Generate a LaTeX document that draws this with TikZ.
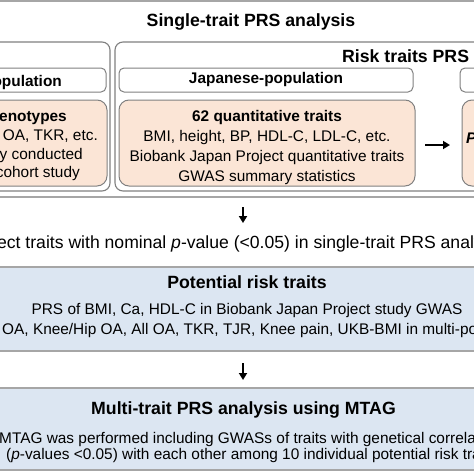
\documentclass[tikz,border=0pt]{standalone}
\usepackage{fontspec}
\setmainfont{Liberation Sans}
\usetikzlibrary{arrows.meta}
\definecolor{peach}{HTML}{FBE5D6}
\definecolor{paleblue}{HTML}{DCE6F2}
\definecolor{secgray}{HTML}{A6A6A6}
\definecolor{boxgray}{HTML}{808080}
\newcommand{\bodysize}{\fontsize{15.4}{20}\selectfont}
\newcommand{\headsize}{\fontsize{17.7}{22}\selectfont\bfseries}

\begin{document}
\begin{tikzpicture}[x=1pt,y=-1pt,
  secbox/.style={draw=secgray,line width=2.5pt,minimum width=640pt,inner sep=0pt,outer sep=0pt},
  grpbox/.style={draw=boxgray,line width=1.1pt,rounded corners=8pt,minimum height=149pt,inner sep=0pt,outer sep=0pt},
  headbox/.style={draw=boxgray,line width=1pt,rounded corners=5pt,minimum height=24pt,inner sep=0pt,outer sep=0pt,font=\bodysize\bfseries},
  peachbox/.style={draw=boxgray,fill=peach,line width=1pt,rounded corners=10pt,minimum height=86pt,inner sep=0pt,outer sep=0pt},
  txt/.style={inner sep=0pt,font=\bodysize,align=center},
  arr/.style={-{Triangle[length=7pt,width=8pt]},line width=2pt}]
\useasboundingbox (0,0) rectangle (474,474);
\clip (0,0) rectangle (474,474);

% single-trait part
\node[secbox,minimum height=196pt] (single) at (243,99) {};
\node[anchor=base,inner sep=0pt,font=\headsize] (singleTitle) at (251,26) {Single-trait PRS analysis};
\node[grpbox,anchor=north east,minimum width=180pt] (grpTarget) at (110,42) {};
\node[grpbox,anchor=north west,minimum width=700pt] (grpRisk) at (115,42) {};
\node[anchor=base west,inner sep=0pt,font=\headsize] (riskTitle) at (342,62) {Risk traits PRS};

% column headers
\node[headbox,anchor=north east,minimum width=170pt] (popMulti) at (106,68) {};
\node[anchor=base east,inner sep=0pt,font=\bodysize\bfseries] (popMultiText) at (62,86) {Multi-population};
\node[headbox,minimum width=294pt] (popJapan) at (266,80) {Japanese-population};
\node[headbox,anchor=north west,minimum width=200pt] (popNext) at (460,68) {};

% trait boxes
\node[peachbox,anchor=north east,minimum width=170pt] (traitsTarget) at (107,100) {};
\node[txt,anchor=base east,font=\bodysize\bfseries] (phenoHead) at (67,121) {Phenotypes};
\node[txt,anchor=base east] (phenoLineA) at (98,140) {Knee OA, Hip OA, TKR, etc.};
\node[txt,anchor=base east] (phenoLineB) at (83,159) {Newly conducted};
\node[txt,anchor=base east] (phenoLineC) at (80,177) {OA cohort study};
\node[peachbox,minimum width=296pt] (traitsJapan) at (267,143) {};
\node[txt,anchor=north] (traitsJapanText) at (267,110)
  {\textbf{62 quantitative traits}\\BMI, height, BP, HDL-C, LDL-C, etc.\\Biobank Japan Project quantitative traits\\GWAS summary statistics};
\node[peachbox,anchor=west,minimum width=200pt] (traitsNext) at (462,143) {};
\node[anchor=base west,inner sep=0pt,font=\bodysize\bfseries\itshape] (traitsNextText) at (466,143) {P};
\draw[arr,shorten <=10pt,shorten >=12pt] ([yshift=-2pt]traitsJapan.east) -- ([yshift=-2pt]traitsNext.west);

% selection step
\node[anchor=base,inner sep=0pt,font=\fontsize{17.6}{21}\selectfont] (select) at (238,248)
  {Select traits with nominal \textit{p}-value (<0.05) in single-trait PRS analysis};
\draw[arr,shorten <=10pt,shorten >=12pt] (single.south) -- (single.south |- select.north);

% potential risk traits
\node[secbox,fill=paleblue,minimum height=84pt] (risk) at (243,309) {};
\node[anchor=base,inner sep=0pt,font=\headsize] (riskHead) at (247,288) {Potential risk traits};
\node[anchor=base,inner sep=0pt,font=\bodysize] (riskLineA) at (247,314)
  {PRS of BMI, Ca, HDL-C in Biobank Japan Project study GWAS};
\node[anchor=base west,inner sep=0pt,font=\bodysize] (riskLineB) at (2,334)
  {OA, Knee/Hip OA, All OA, TKR, TJR, Knee pain, UKB-BMI in multi-population};

% multi-trait step
\node[secbox,fill=paleblue,minimum height=82pt] (mtag) at (243,429) {};
\draw[arr,shorten <=12pt,shorten >=8pt] (risk.south) -- (mtag.north);
\node[anchor=base,inner sep=0pt,font=\headsize] (mtagHead) at (243.5,414) {Multi-trait PRS analysis using MTAG};
\node[anchor=base west,inner sep=0pt,font=\bodysize] (mtagLineA) at (-1,443)
  {MTAG was performed including GWASs of traits with genetical correlation};
\node[anchor=base west,inner sep=0pt,font=\bodysize] (mtagLineB) at (6,459)
  {(\textit{p}-values <0.05) with each other among 10 individual potential risk traits};
\end{tikzpicture}
\end{document}
